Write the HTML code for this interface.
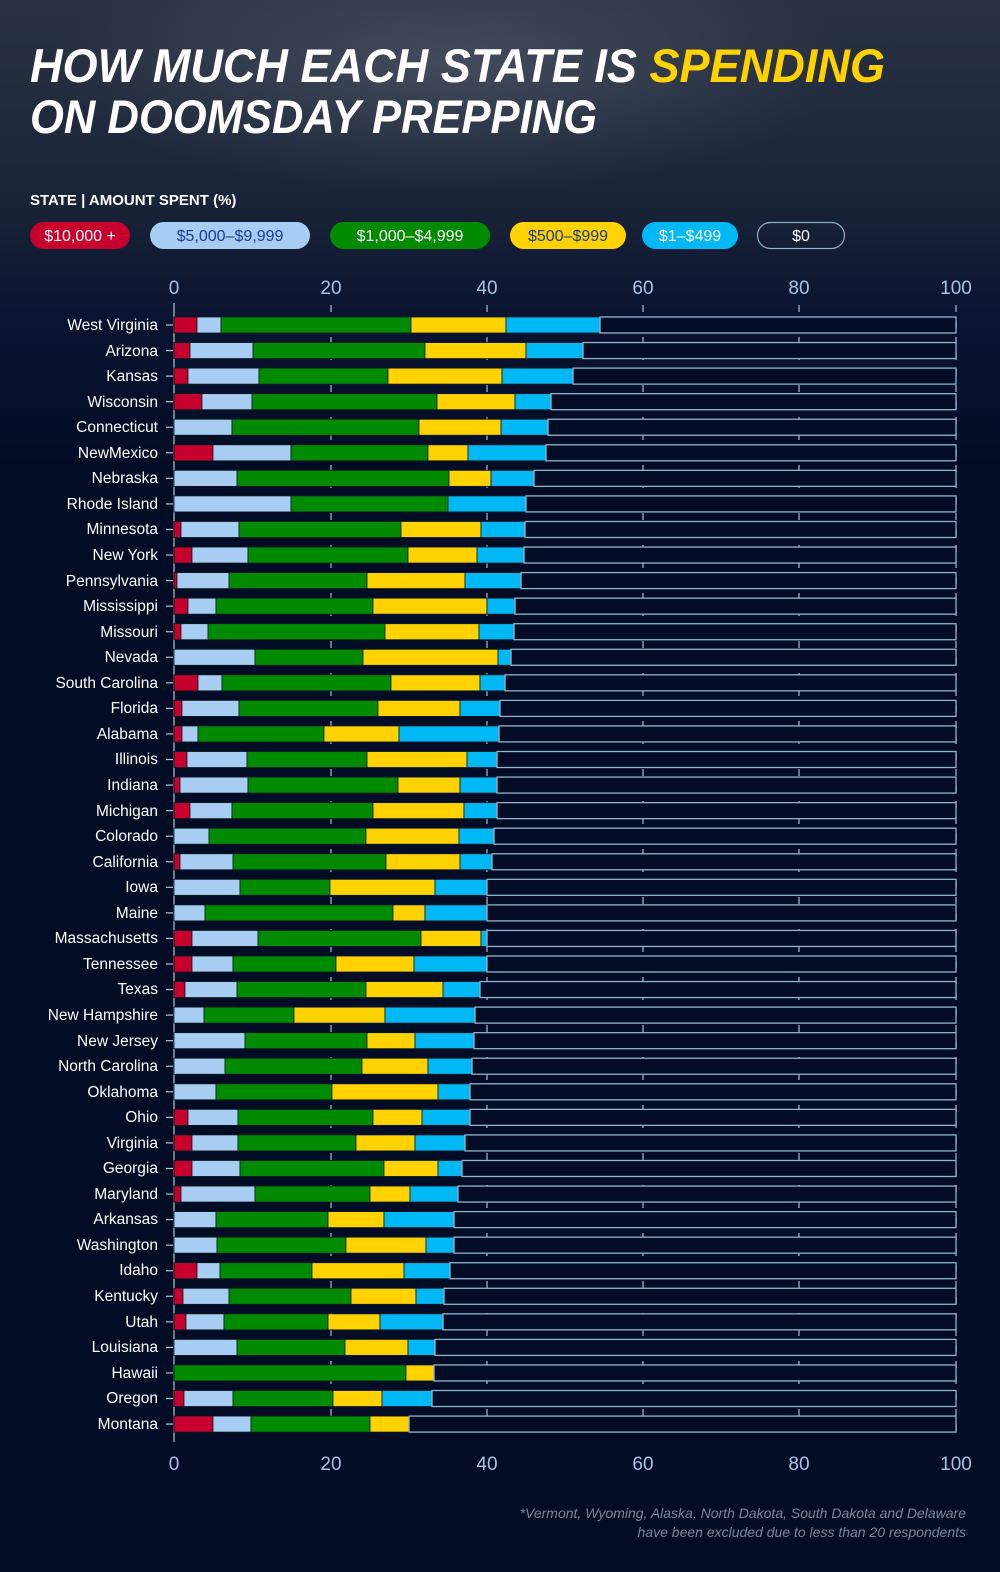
<!DOCTYPE html>
<html><head><meta charset="utf-8"><style>
html,body{margin:0;padding:0;background:#020c24;}
svg{display:block}
</style></head><body>
<svg id="s" width="1000" height="1572" viewBox="0 0 1000 1572" xmlns="http://www.w3.org/2000/svg" font-family="Liberation Sans, sans-serif">
<defs>
<linearGradient id="bg" x1="0" y1="0" x2="0" y2="1">
<stop offset="0" stop-color="#2a3243"/><stop offset="0.12" stop-color="#1b2538"/><stop offset="0.2" stop-color="#0a1430"/><stop offset="0.3" stop-color="#020c24"/><stop offset="1" stop-color="#020c24"/>
</linearGradient>
<radialGradient id="glow" cx="0.45" cy="0.2" r="0.4"><stop offset="0" stop-color="#5a6272" stop-opacity="0.55"/><stop offset="1" stop-color="#5a6272" stop-opacity="0"/></radialGradient>
</defs>
<rect width="1000" height="1572" fill="url(#bg)"/>
<rect width="1000" height="320" fill="url(#glow)"/>
<text x="30" y="82" font-size="47" font-weight="bold" font-style="italic" fill="#fff" textLength="855" lengthAdjust="spacingAndGlyphs">HOW MUCH EACH STATE IS <tspan fill="#ffd200">SPENDING</tspan></text>
<text x="30" y="133" font-size="47" font-weight="bold" font-style="italic" fill="#fff" textLength="567" lengthAdjust="spacingAndGlyphs">ON DOOMSDAY PREPPING</text>
<text x="30" y="205" font-size="15" font-weight="bold" fill="#fff">STATE | AMOUNT SPENT (%)</text>
<g font-size="16" text-anchor="middle">
<rect x="30" y="222" width="100" height="27" rx="13.5" fill="#c8002d"/><text x="80" y="241" fill="#fff">$10,000 +</text>
<rect x="150" y="222" width="160" height="27" rx="13.5" fill="#a8cdf2"/><text x="230" y="241" fill="#1a3d8f">$5,000–$9,999</text>
<rect x="330" y="222" width="160" height="27" rx="13.5" fill="#008a00"/><text x="410" y="241" fill="#fff">$1,000–$4,999</text>
<rect x="510" y="222" width="116" height="27" rx="13.5" fill="#ffd200"/><text x="568" y="241" fill="#1a3d8f">$500–$999</text>
<rect x="642" y="222" width="96" height="27" rx="13.5" fill="#00b8f5"/><text x="690" y="241" fill="#fff">$1–$499</text>
<rect x="757.5" y="222.5" width="87" height="26" rx="13" fill="none" stroke="#8fb0c8" stroke-width="1.2"/><text x="801" y="241" fill="#fff">$0</text>
</g>
<g font-size="19" fill="#a8c4e4" text-anchor="middle">
<text x="174" y="294">0</text><text x="331" y="294">20</text><text x="487" y="294">40</text><text x="643" y="294">60</text><text x="799" y="294">80</text><text x="956" y="294">100</text>
<text x="174" y="1470">0</text><text x="331" y="1470">20</text><text x="487" y="1470">40</text><text x="643" y="1470">60</text><text x="799" y="1470">80</text><text x="956" y="1470">100</text>
</g>
<g stroke="#8a9aae" stroke-width="1.5" stroke-dasharray="7,9">
<line x1="331" y1="305" x2="331" y2="1440"/><line x1="487" y1="305" x2="487" y2="1440"/><line x1="643" y1="305" x2="643" y2="1440"/><line x1="799" y1="305" x2="799" y2="1440"/><line x1="956" y1="305" x2="956" y2="1440"/>
</g>
<line x1="174" y1="303" x2="174" y2="1442" stroke="#b8c4d4" stroke-width="1.2"/>
<g id="bars"></g>
<g font-size="15.5" fill="#fff" text-anchor="end">
<text x="158" y="330">West Virginia</text><text x="158" y="356">Arizona</text><text x="158" y="381">Kansas</text><text x="158" y="407">Wisconsin</text><text x="158" y="432">Connecticut</text><text x="158" y="458">NewMexico</text><text x="158" y="483">Nebraska</text><text x="158" y="509">Rhode Island</text><text x="158" y="534">Minnesota</text><text x="158" y="560">New York</text><text x="158" y="586">Pennsylvania</text><text x="158" y="611">Mississippi</text><text x="158" y="637">Missouri</text><text x="158" y="662">Nevada</text><text x="158" y="688">South Carolina</text><text x="158" y="713">Florida</text><text x="158" y="739">Alabama</text><text x="158" y="764">Illinois</text><text x="158" y="790">Indiana</text><text x="158" y="816">Michigan</text><text x="158" y="841">Colorado</text><text x="158" y="867">California</text><text x="158" y="892">Iowa</text><text x="158" y="918">Maine</text><text x="158" y="943">Massachusetts</text><text x="158" y="969">Tennessee</text><text x="158" y="994">Texas</text><text x="158" y="1020">New Hampshire</text><text x="158" y="1046">New Jersey</text><text x="158" y="1071">North Carolina</text><text x="158" y="1097">Oklahoma</text><text x="158" y="1122">Ohio</text><text x="158" y="1148">Virginia</text><text x="158" y="1173">Georgia</text><text x="158" y="1199">Maryland</text><text x="158" y="1224">Arkansas</text><text x="158" y="1250">Washington</text><text x="158" y="1275">Idaho</text><text x="158" y="1301">Kentucky</text><text x="158" y="1327">Utah</text><text x="158" y="1352">Louisiana</text><text x="158" y="1378">Hawaii</text><text x="158" y="1403">Oregon</text><text x="158" y="1429">Montana</text>
</g>
<g font-size="14" font-style="italic" fill="#7d8798" text-anchor="end">
<text x="966" y="1518">*Vermont, Wyoming, Alaska, North Dakota, South Dakota and Delaware</text>
<text x="966" y="1537">have been excluded due to less than 20 respondents</text>
</g>
</svg>
<script>
var d=[[197,221,411,506,600],[190,253,425,526,583],[188,259,388,502,573],[202,252,437,515,551],[174,232,419,501,548],[213,291,428,468,546],[174,237,449,491,534],[174,291,448,448,526],[181,239,401,481,525],[192,248,408,477,524],[177,229,367,465,521],[188,216,373,487,515],[181,208,385,479,514],[174,255,363,498,511],[198,222,391,480,505],[182,239,378,460,500],[182,198,324,399,499],[187,247,367,467,497],[180,248,398,460,497],[190,232,373,464,497],[174,209,366,459,494],[180,233,386,460,492],[174,240,330,435,487],[174,205,393,425,487],[192,258,421,481,487],[192,233,336,414,487],[185,237,366,443,480],[174,204,294,385,475],[174,245,367,415,474],[174,225,362,428,472],[174,216,332,438,470],[188,238,373,422,470],[192,238,356,415,465],[192,240,384,438,462],[181,255,370,410,458],[174,216,328,384,454],[174,217,346,426,454],[197,220,312,404,450],[183,229,351,416,444],[186,224,328,380,443],[174,237,345,408,435],[174,174,406,434,434],[184,233,333,382,432],[213,251,370,409,409]];
var c=["#c8002d","#a8cdf2","#008a00","#ffd200","#00b8f5"];
var g=document.getElementById("bars"),h="";
d.forEach(function(r,i){var cy=325+i*25.56,y=cy-8,p=174;
h+='<line x1="166" y1="'+cy+'" x2="173" y2="'+cy+'" stroke="#b8c4d4" stroke-width="1.2"/>';
r.forEach(function(v,k){if(v>p){h+='<rect x="'+p+'" y="'+y+'" width="'+(v-p)+'" height="16" fill="'+c[k]+'" stroke="#0a1a20" stroke-width="0.8"/>';}p=Math.max(p,v);});
h+='<rect x="'+p+'" y="'+y+'" width="'+(956-p)+'" height="16" fill="#020c24" stroke="#8fb4cc" stroke-width="1.3"/>';});
g.innerHTML=h;
</script>
</body></html>
